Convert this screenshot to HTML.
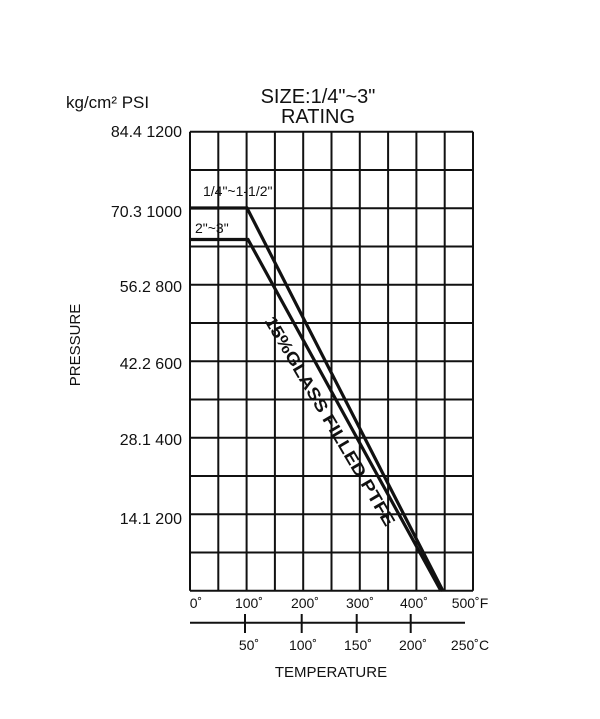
<!DOCTYPE html><html><head><style>body{margin:0;background:#fff}</style></head><body>
<svg width="600" height="714" xmlns="http://www.w3.org/2000/svg" font-family="Liberation Sans, sans-serif" fill="#111">
<g stroke="#111" stroke-width="2">
<line x1="190" y1="131.7" x2="473" y2="131.7"/><line x1="190" y1="170" x2="473" y2="170"/><line x1="190" y1="208.2" x2="473" y2="208.2"/><line x1="190" y1="246.5" x2="473" y2="246.5"/><line x1="190" y1="284.7" x2="473" y2="284.7"/><line x1="190" y1="323" x2="473" y2="323"/><line x1="190" y1="361.2" x2="473" y2="361.2"/><line x1="190" y1="399.5" x2="473" y2="399.5"/><line x1="190" y1="437.7" x2="473" y2="437.7"/><line x1="190" y1="476" x2="473" y2="476"/><line x1="190" y1="514.2" x2="473" y2="514.2"/><line x1="190" y1="552.5" x2="473" y2="552.5"/><line x1="190" y1="590.7" x2="473" y2="590.7"/>
<line x1="190" y1="131.7" x2="190" y2="590.7"/><line x1="218.3" y1="131.7" x2="218.3" y2="590.7"/><line x1="246.6" y1="131.7" x2="246.6" y2="590.7"/><line x1="274.9" y1="131.7" x2="274.9" y2="590.7"/><line x1="303.2" y1="131.7" x2="303.2" y2="590.7"/><line x1="331.5" y1="131.7" x2="331.5" y2="590.7"/><line x1="359.8" y1="131.7" x2="359.8" y2="590.7"/><line x1="388.1" y1="131.7" x2="388.1" y2="590.7"/><line x1="416.4" y1="131.7" x2="416.4" y2="590.7"/><line x1="444.7" y1="131.7" x2="444.7" y2="590.7"/><line x1="473" y1="131.7" x2="473" y2="590.7"/>
<line x1="190" y1="622.7" x2="465" y2="622.7"/>
<line x1="245" y1="614" x2="245" y2="633"/><line x1="301.7" y1="614" x2="301.7" y2="633"/><line x1="356.7" y1="614" x2="356.7" y2="633"/><line x1="410.7" y1="614" x2="410.7" y2="633"/>
</g>
<g stroke="#111" stroke-width="3.2" fill="none">
<polyline points="190,208 247,208 443,591"/>
<polyline points="190,239.5 248,239.5 441,591"/>
</g>
<g font-size="16" text-anchor="end">
<text x="182" y="137">84.4 1200</text>
<text x="182" y="217">70.3 1000</text>
<text x="182" y="292">56.2 800</text>
<text x="182" y="369">42.2 600</text>
<text x="182" y="445">28.1 400</text>
<text x="182" y="524">14.1 200</text>
</g>
<text x="66" y="108" font-size="17">kg/cm² PSI</text>
<text transform="translate(80,345) rotate(-90)" text-anchor="middle" font-size="15">PRESSURE</text>
<text x="318" y="103" text-anchor="middle" font-size="20">SIZE:1/4"~3"</text>
<text x="318" y="123" text-anchor="middle" font-size="20">RATING</text>
<text x="203" y="196" font-size="14">1/4"~1-1/2"</text>
<text x="195" y="233" font-size="14">2"~3"</text>
<text transform="translate(325,424) rotate(59.5)" text-anchor="middle" font-size="17" font-weight="bold" textLength="240" lengthAdjust="spacingAndGlyphs">15%GLASS FILLED PTFE</text>
<g font-size="14" text-anchor="middle">
<text x="196" y="608">0˚</text><text x="249" y="608">100˚</text><text x="305" y="608">200˚</text><text x="360" y="608">300˚</text><text x="414" y="608">400˚</text><text x="470" y="608">500˚F</text>
<text x="249" y="650">50˚</text><text x="303" y="650">100˚</text><text x="358" y="650">150˚</text><text x="413" y="650">200˚</text><text x="470" y="650">250˚C</text>
<text x="331" y="677" font-size="15">TEMPERATURE</text>
</g>
</svg>
</body></html>
